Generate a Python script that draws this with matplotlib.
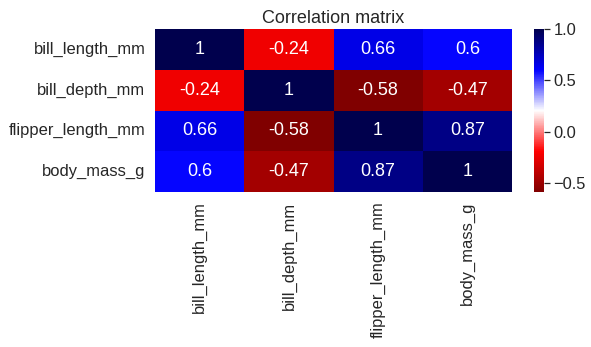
import matplotlib
matplotlib.use("Agg")
import matplotlib.pyplot as plt
import numpy as np
import pandas as pd
import seaborn as sns

columns = ["bill_length_mm", "bill_depth_mm", "flipper_length_mm", "body_mass_g"]
corr_values = [
    [1.0, -0.235053, 0.656181, 0.595110],
    [-0.235053, 1.0, -0.583851, -0.471916],
    [0.656181, -0.583851, 1.0, 0.871202],
    [0.595110, -0.471916, 0.871202, 1.0],
]

corr = pd.DataFrame(corr_values, index=columns, columns=columns)

sns.set_theme(font_scale=1.5)
plt.rcParams["font.family"] = ["Liberation Sans", "DejaVu Sans"]

fig = plt.figure(figsize=(591 / 72, 347 / 72), dpi=72)
ax = fig.add_axes([0.2623, 0.4467, 0.604, 0.4697])
cax = fig.add_axes([0.9036, 0.4467, 0.0169, 0.4697])
sns.heatmap(corr, annot=True, cmap="seismic_r", ax=ax, cbar_ax=cax)
ax.set_title("Correlation matrix")

fig.savefig("out.png", dpi=72)
